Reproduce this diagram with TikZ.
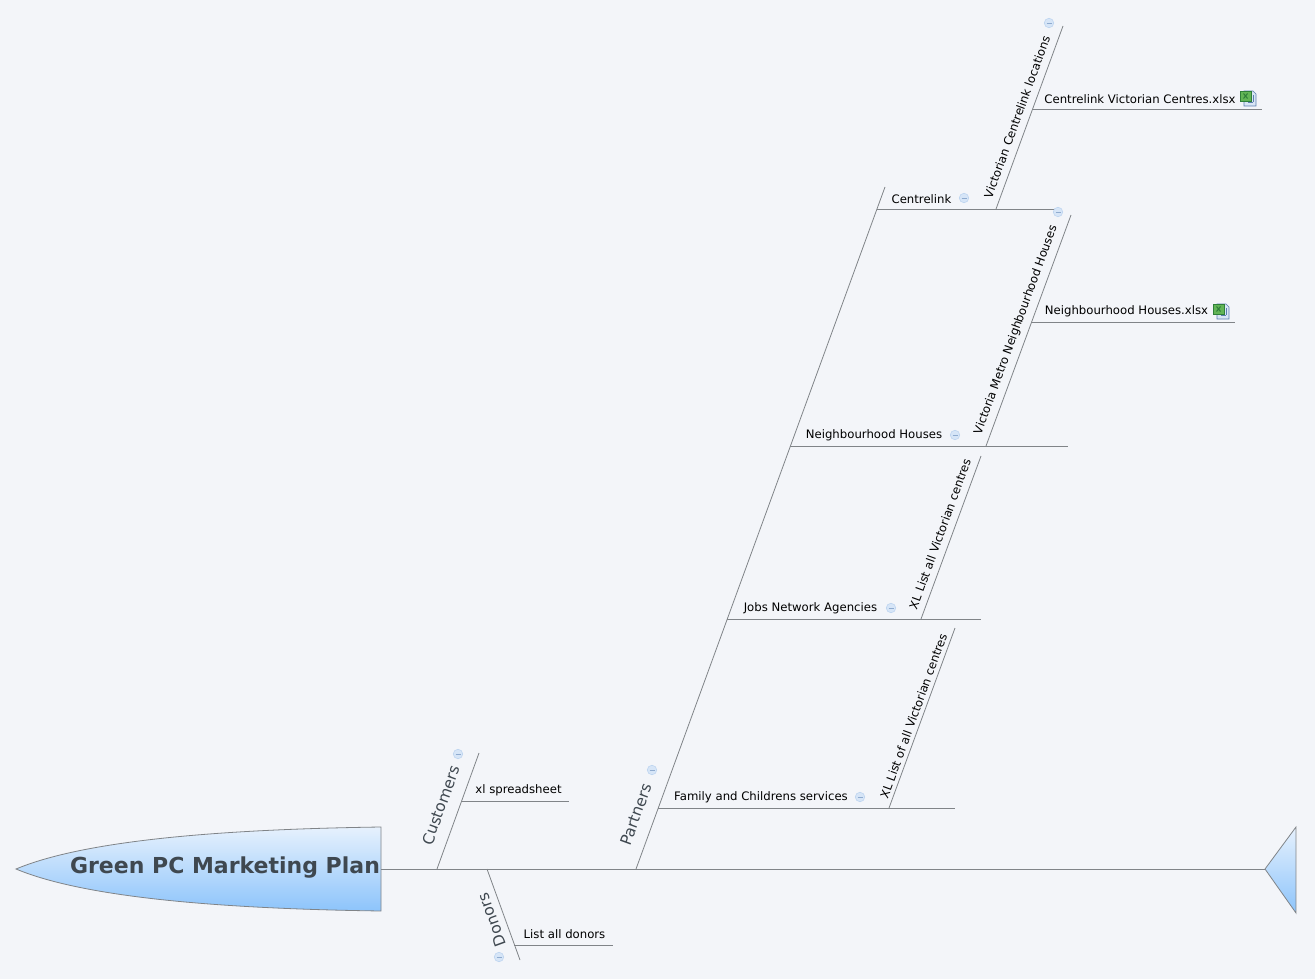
\documentclass[tikz,border=0pt]{standalone}
\usepackage{fontspec}
\setmainfont{DejaVu Sans}
\definecolor{bgc}{HTML}{F3F5F9}
\definecolor{linec}{HTML}{808488}
\definecolor{titlec}{HTML}{3F4850}
\definecolor{gradtop}{HTML}{E6F1FD}
\definecolor{gradbot}{HTML}{8DC4FB}
\definecolor{markfill}{HTML}{D6E5F7}
\definecolor{markdraw}{HTML}{BDD4F0}
\definecolor{markbar}{HTML}{8FABCF}
\definecolor{xlgreen}{HTML}{62B556}
\definecolor{xldark}{HTML}{2F7F3A}
\definecolor{xlpage}{HTML}{D9E6F5}
\definecolor{xlblue}{HTML}{5C7FB0}
\tikzset{
  x=1pt,y=-1pt,
  bone/.style={draw=linec,line width=0.8pt},
  shapeline/.style={draw=linec,line width=0.8pt,top color=gradtop,bottom color=gradbot},
  sub/.style={font=\fontsize{11.7}{14}\selectfont,text=black,inner sep=0pt,anchor=center},
  main/.style={font=\fontsize{15.5}{18}\selectfont,text=titlec,inner sep=0pt,anchor=center},
  collapse/.style={circle,draw=markdraw,fill=markfill,line width=0.6pt,minimum size=9.5pt,inner sep=0pt,
    path picture={\draw[markbar,line width=0.6pt] ([xshift=-2.5pt]path picture bounding box.center)--([xshift=2.5pt]path picture bounding box.center);}},
}
\newcommand{\xlicon}[1]{%
  \begin{scope}[shift={(#1)}]
    \fill[xlpage,draw=xlblue,line width=0.6pt] (-4,-7)--(5,-7)--(8,-4)--(8,8)--(-4,8)--cycle;
    \draw[xlblue,line width=0.5pt] (0,4)--(5,4) (5,-3)--(5,4);
    \fill[xlgreen,draw=xldark,line width=0.3pt] (-8,-7) rectangle (3,3);
    \draw[xldark,line width=1pt] (-4.5,-4.5)--(-0.5,0.5) (-0.5,-4.5)--(-4.5,0.5);
  \end{scope}}
\begin{document}
\begin{tikzpicture}
\useasboundingbox[fill=bgc] (0,0) rectangle (1315,979);

% named coordinates
\coordinate (headR) at (381,869);
\coordinate (tailL) at (1265,869);
\coordinate (cusA) at (437,869); \coordinate (cusB) at (479,753);
\coordinate (xlA) at (462,801); \coordinate (xlB) at (569,801);
\coordinate (donA) at (487,869); \coordinate (donB) at (520,960);
\coordinate (ldA) at (514,945); \coordinate (ldB) at (613,945);
\coordinate (parA) at (636,869); \coordinate (parB) at (885,187);
\coordinate (famA) at (658,808); \coordinate (famB) at (955,808);
\coordinate (xofA) at (889,808); \coordinate (xofB) at (955,628);
\coordinate (jobA) at (727,619); \coordinate (jobB) at (981,619);
\coordinate (xalA) at (921,619); \coordinate (xalB) at (981,456);
\coordinate (nhA) at (790,446); \coordinate (nhB) at (1068,446);
\coordinate (vmA) at (986,446); \coordinate (vmB) at (1071,215);
\coordinate (nfA) at (1032,322); \coordinate (nfB) at (1235,322);
\coordinate (clA) at (877,209); \coordinate (clB) at (1055,209);
\coordinate (vcA) at (996,209); \coordinate (vcB) at (1063,26);
\coordinate (cfA) at (1033,109); \coordinate (cfB) at (1262,109);

% head and tail
\path[shapeline] (381,827) .. controls (240,829) and (90,838) .. (16,869)
  .. controls (90,900) and (240,909) .. (381,911) -- cycle;
\path[shapeline] (1296,827) -- (1265,869) -- (1296,913) -- cycle;

% bones
\draw[bone] (headR) -- (tailL);
\draw[bone] (cusA) -- (cusB);
\draw[bone] (xlA) -- (xlB);
\draw[bone] (donA) -- (donB);
\draw[bone] (ldA) -- (ldB);
\draw[bone] (parA) -- (parB);
\draw[bone] (famA) -- (famB);
\draw[bone] (xofA) -- (xofB);
\draw[bone] (jobA) -- (jobB);
\draw[bone] (xalA) -- (xalB);
\draw[bone] (nhA) -- (nhB);
\draw[bone] (vmA) -- (vmB);
\draw[bone] (nfA) -- (nfB);
\draw[bone] (clA) -- (clB);
\draw[bone] (vcA) -- (vcB);
\draw[bone] (cfA) -- (cfB);

% texts
\node[inner sep=0pt,text=titlec,font=\fontsize{22}{26}\selectfont\bfseries] (title) at (225,867.5) {Green PC Marketing Plan};
\node[main,rotate=70] (customers) at (441,805) {Customers};
\node[main,rotate=70] (partners) at (636,814) {Partners};
\node[main,rotate=110] (donors) at (492,920) {Donors};
\node[sub] (xl) at (518.5,790.5) {xl spreadsheet};
\node[sub] (listdonors) at (564.5,934.5) {List all donors};
\node[sub] (family) at (761,797.5) {Family and Childrens services};
\node[sub] (jobs) at (810.5,608.5) {Jobs Network Agencies};
\node[sub] (nh) at (874,435.5) {Neighbourhood Houses};
\node[sub] (cl) at (921.5,199.5) {Centrelink};
\node[sub] (cf) at (1140,99.5) {Centrelink Victorian Centres.xlsx};
\node[sub] (nf) at (1126.5,311.5) {Neighbourhood Houses.xlsx};
\node[sub,rotate=70] (xof) at (913.5,716) {XL List of all Victorian centres};
\node[sub,rotate=70] (xal) at (940,534) {XL List all Victorian centres};
\node[sub,rotate=70] (vm) at (1016,330) {Victoria Metro Neighbourhood Houses};
\node[sub,rotate=70] (vc) at (1017,117) {Victorian Centrelink locations};

% collapse markers
\foreach \n/\p in {a/{458,754},b/{652,770},c/{499,957},d/{1049,23},e/{964,198},f/{1058,212},g/{955,435},h/{891,608},i/{860,797}}
  \node[collapse] (m\n) at (\p) {};

% file icons
\xlicon{1248,98}
\xlicon{1221,311}
\end{tikzpicture}
\end{document}
